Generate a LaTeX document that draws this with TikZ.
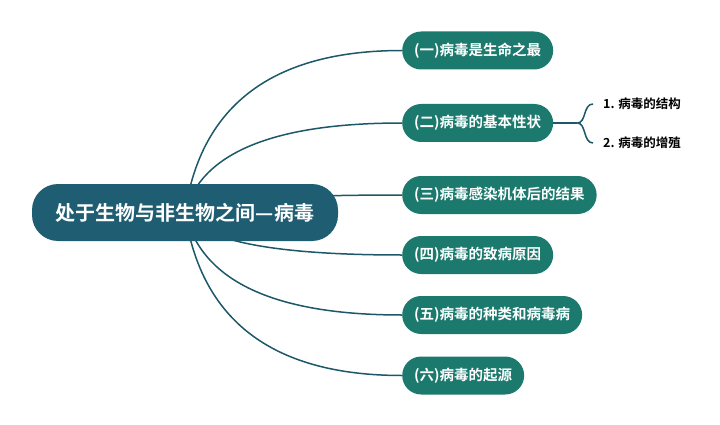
\documentclass[tikz,border=0pt]{standalone}
\usepackage{fontspec}
\setmainfont{Noto Sans CJK SC}[BoldFont={Noto Sans CJK SC Bold}]
\usetikzlibrary{calc,backgrounds}
\definecolor{rootblue}{HTML}{1E5D72}
\definecolor{leafgreen}{HTML}{1B7A6D}
\definecolor{linkteal}{HTML}{1D5868}
\tikzset{>=stealth}

\begin{document}
\begin{tikzpicture}[x=1pt,y=-1pt,
  rootbox/.style={fill=rootblue,text=white,rounded corners=26pt,minimum width=306pt,minimum height=57pt,font=\bfseries\fontsize{20}{24}\selectfont},
  topicbox/.style={fill=leafgreen,text=white,rounded corners=19pt,minimum height=38pt,inner xsep=12pt,anchor=west,font=\bfseries\fontsize{14.5}{17}\selectfont},
  subtopic/.style={anchor=west,inner xsep=10pt,inner ysep=2pt,font=\bfseries\fontsize{12.5}{15}\selectfont},
  link/.style={draw=linkteal,line width=1.5pt}]
\useasboundingbox (0,0) rectangle (720,425);
\node[rootbox] (root) at (185,212.5) {处于生物与非生物之间—病毒};
\coordinate (hub) at (185,212.5);
\node[topicbox] (t1) at (402,50.5) {(一)病毒是生命之最};
\node[topicbox] (t2) at (402,123) {(二)病毒的基本性状};
\node[topicbox] (t3) at (402,195) {(三)病毒感染机体后的结果};
\node[topicbox] (t4) at (402,255) {(四)病毒的致病原因};
\node[topicbox] (t5) at (402,315) {(五)病毒的种类和病毒病};
\node[topicbox] (t6) at (402,375.5) {(六)病毒的起源};
\node[subtopic] (s1) at (593,104) {1. 病毒的结构};
\node[subtopic] (s2) at (593,143) {2. 病毒的增殖};
\coordinate (fork) at ($(t2.east)+(24,0)$);
\begin{scope}[on background layer]
  \foreach \t in {t1,t2,t3,t4,t5,t6}{
    \coordinate (c) at ($(hub |- \t.west)+(24,0)$);
    \draw[link] (hub) .. controls ($(hub)!2/3!(c)$) and ($(\t.west)!2/3!(c)$) .. (\t.west);
  }
\end{scope}
\draw[link] (t2.east) -- (fork);
\draw[link] (fork) .. controls +(9,0) and +(-10,0) .. (s1.west);
\draw[link] (fork) .. controls +(9,0) and +(-10,0) .. (s2.west);
\end{tikzpicture}
\end{document}
